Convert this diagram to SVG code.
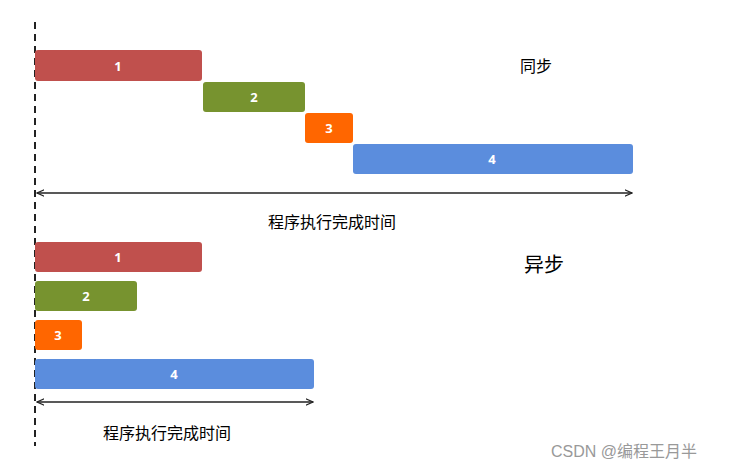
<svg xmlns="http://www.w3.org/2000/svg" width="737" height="470" viewBox="0 0 737 470">
<style>
.bar{stroke:none}
.n{font-family:"Open Sans","Liberation Sans",sans-serif;font-weight:bold;font-size:13px;fill:#fff;text-anchor:middle}
.t{font-family:"Liberation Sans","Noto Sans CJK SC",sans-serif;font-size:16px;fill:#000}
.c{stroke:#222;stroke-width:1.5;fill:none}
</style>
<defs>
<marker id="ah" viewBox="0 0 10 10" refX="9" refY="5" markerWidth="8" markerHeight="8" orient="auto-start-reverse" markerUnits="userSpaceOnUse"><path d="M0,1 L9,5 L0,9" fill="none" stroke="#222" stroke-width="1.5"/></marker>
</defs>
<rect width="737" height="470" fill="#fff"/>
<line x1="35" y1="22" x2="35" y2="446" stroke="#222" stroke-width="2" stroke-dasharray="7,5"/>
<g id="s1"><rect class="bar" x="35" y="50" width="167" height="31" rx="3" fill="#c0504d"/><text class="n" x="118" y="71">1</text></g>
<g id="s2"><rect class="bar" x="203" y="82" width="102" height="30" rx="3" fill="#77932f"/><text class="n" x="254" y="102">2</text></g>
<g id="s3"><rect class="bar" x="305" y="113" width="48" height="30" rx="3" fill="#ff6600"/><text class="n" x="329" y="133">3</text></g>
<g id="s4"><rect class="bar" x="353" y="144" width="280" height="30" rx="3" fill="#5b8ddd"/><text class="n" x="492" y="164">4</text></g>
<g id="a1"><rect class="bar" x="35" y="242" width="167" height="30" rx="3" fill="#c0504d"/><text class="n" x="118" y="262">1</text></g>
<g id="a2"><rect class="bar" x="35" y="281" width="102" height="30" rx="3" fill="#77932f"/><text class="n" x="86" y="301">2</text></g>
<g id="a3"><rect class="bar" x="35" y="320" width="47" height="30" rx="3" fill="#ff6600"/><text class="n" x="58" y="340">3</text></g>
<g id="a4"><rect class="bar" x="35" y="359" width="279" height="30" rx="3" fill="#5b8ddd"/><text class="n" x="174" y="379">4</text></g>
<g id="connectors">
<line class="c" x1="37" y1="193" x2="632" y2="193" marker-start="url(#ah)" marker-end="url(#ah)"/>
<line class="c" x1="37" y1="402" x2="313" y2="402" marker-start="url(#ah)" marker-end="url(#ah)"/>
</g>
<text class="t" x="520" y="72">同步</text>
<text class="t" x="268" y="228">程序执行完成时间</text>
<text class="t" x="524" y="272" style="font-size:20px">异步</text>
<text class="t" x="103" y="439">程序执行完成时间</text>
<text class="t" x="551" y="457" style="font-size:16px;fill:#999">CSDN @编程王月半</text>
</svg>
